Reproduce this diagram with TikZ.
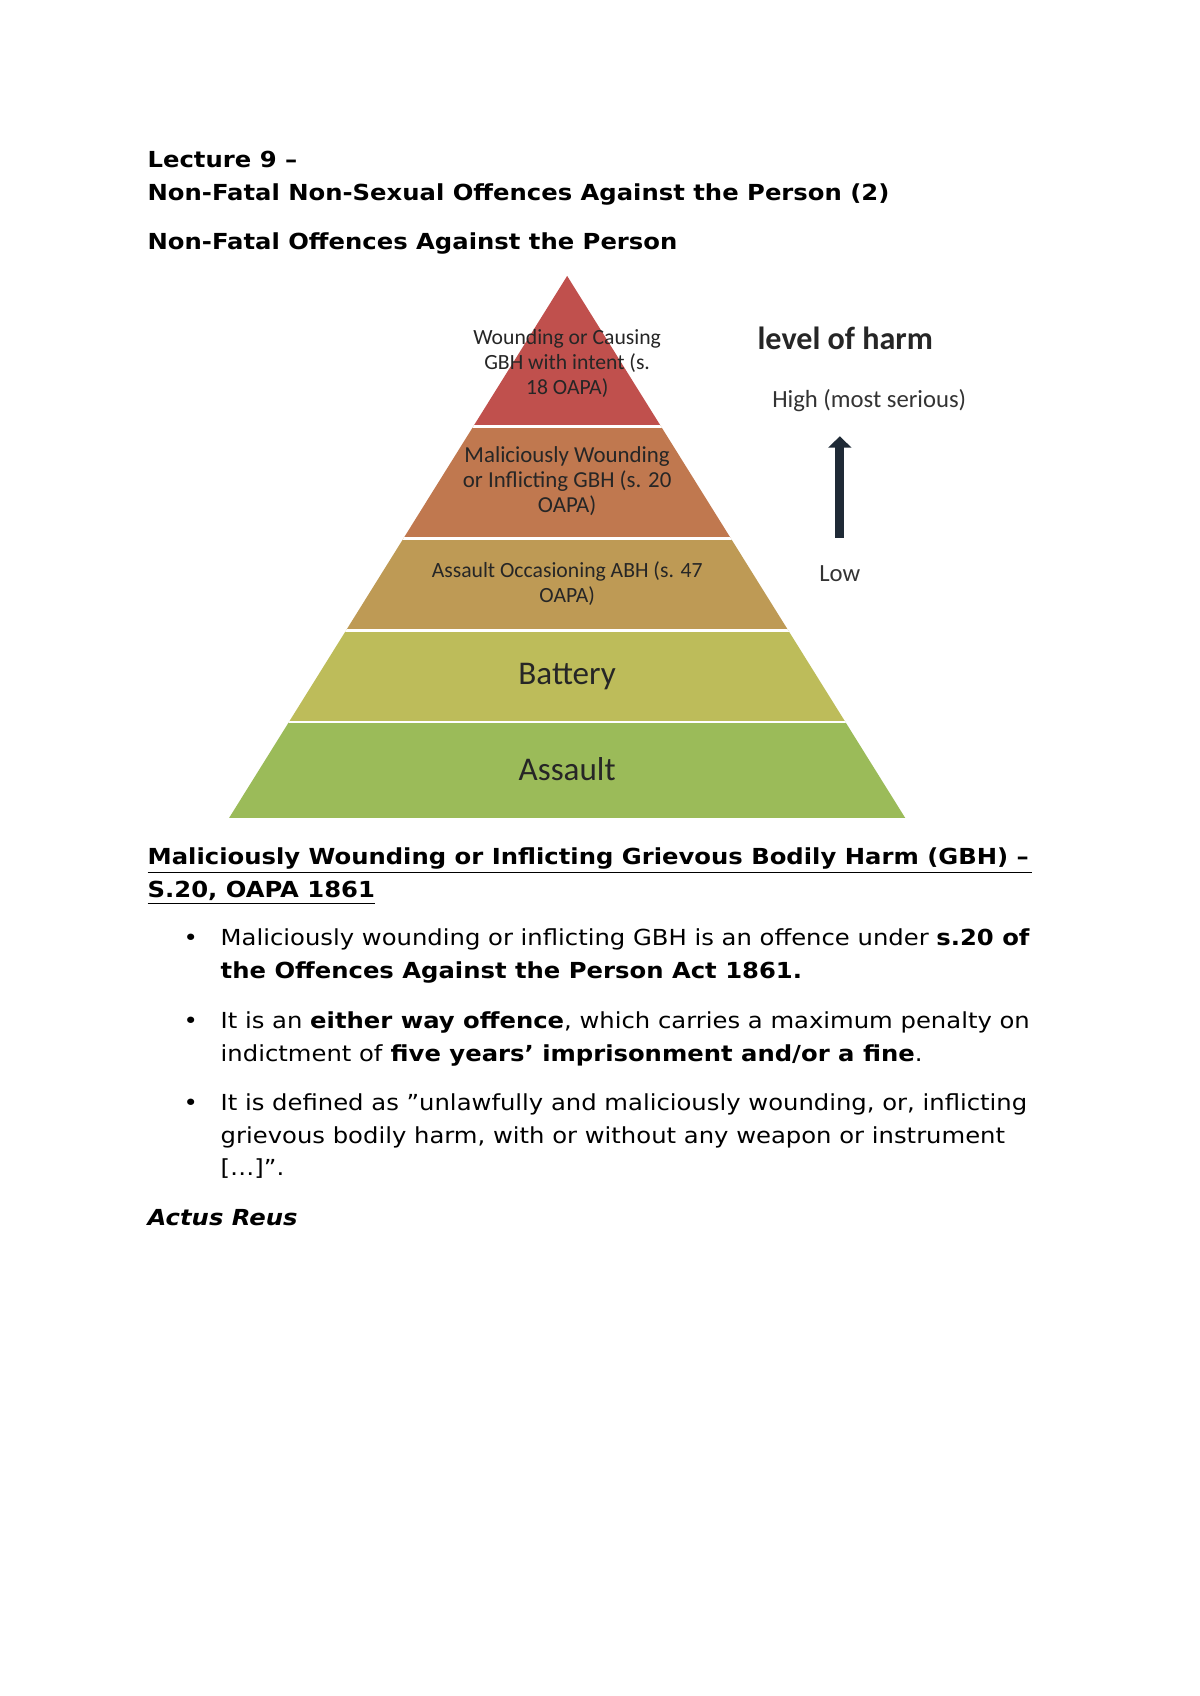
\documentclass[tikz,border=0pt]{standalone}
\usepackage{fontspec}
\setmainfont[FakeStretch=1.1]{DejaVu Sans}
\newfontfamily\calfont{Carlito}
\usetikzlibrary{arrows.meta}
\definecolor{lvred}{HTML}{C0504D}
\definecolor{lvorange}{HTML}{C0784F}
\definecolor{lvtan}{HTML}{BE9A55}
\definecolor{lvolive}{HTML}{BDBC5A}
\definecolor{lvgreen}{HTML}{9BBB59}
\definecolor{arrowdark}{HTML}{1F2A36}
\tikzset{
  doctext/.style={anchor=base west, inner sep=0pt, font=\fontsize{11}{13}\selectfont},
  headtext/.style={doctext, font=\fontsize{11}{13}\selectfont\bfseries},
  layertext/.style={align=center, font=\calfont\fontsize{10.8}{12.5}\selectfont, text=black!85},
  bigtext/.style={font=\calfont\fontsize{16.5}{20}\selectfont, text=black!85}
}
\begin{document}
\begin{tikzpicture}[x=0.191mm, y=-0.191mm]
    \useasboundingbox (0,0) rectangle (1100,1555);
    % Headings
    \node[headtext] (lec) at (135,154) {Lecture 9 –};
    \node[headtext] (sub) at (135,184) {Non-Fatal Non-Sexual Offences Against the Person (2)};
    \node[headtext] (pyrtitle) at (135,229) {Non-Fatal Offences Against the Person};

    % Pyramid bands
    \begin{scope}
        \clip (520,253) -- (830,750) -- (210,750) -- cycle;
        \fill[lvred] (200,250) rectangle (840,390);
        \fill[lvorange] (200,390) rectangle (840,493);
        \fill[lvtan] (200,493) rectangle (840,577);
        \fill[lvolive] (200,577) rectangle (840,661);
        \fill[lvgreen] (200,661) rectangle (840,750);
        \foreach \yy in {391,494,578,662}
            \draw[white, line width=0.5mm] (200,\yy) -- (840,\yy);
    \end{scope}
    \node[layertext] (s18) at (520,333) {Wounding or Causing\\GBH with intent (s.\\18 OAPA)};
    \node[layertext, font=\calfont\fontsize{11.4}{12.5}\selectfont] (s20) at (520,441) {Maliciously Wounding\\or Inflicting GBH (s. 20\\OAPA)};
    \node[layertext] (s47) at (520,535) {Assault Occasioning ABH (s. 47\\OAPA)};
    \node[bigtext] (battery) at (520,620) {Battery};
    \node[bigtext] (assault) at (520,705) {Assault};

    % Level of harm
    \node[font=\calfont\bfseries\fontsize{16}{19}\selectfont, text=black!85] (harm) at (775,310) {level of harm};
    \node[font=\calfont\fontsize{12.3}{14}\selectfont, text=black!80] (high) at (797,367) {High (most serious)};
    \node[font=\calfont\fontsize{12.3}{14}\selectfont, text=black!80] (low) at (770,526) {Low};
    \coordinate (arrbot) at (770,493);
    \coordinate (arrtop) at (770,400);
    \draw[arrowdark, line width=1.6mm, -{Triangle[length=2mm,width=4mm]}] (arrbot) -- (arrtop);

    % Section
    \node[headtext] (sec1) at (135,793) {\underline{Maliciously Wounding or Inflicting Grievous Bodily Harm (GBH) –\,}};
    \node[headtext] (sec2) at (135,823) {\underline{S.20, OAPA 1861}};

    % Bullets
    \foreach \by in {867,943,1018}
        \node[doctext] (dot\by) at (168,\by) {•};
    \node[doctext] (b1a) at (202,867) {Maliciously wounding or inflicting GBH is an offence under \textbf{s.20 of}};
    \node[doctext] (b1b) at (202,897) {\textbf{the Offences Against the Person Act 1861.}};
    \node[doctext] (b2a) at (202,943) {It is an \textbf{either way offence}, which carries a maximum penalty on};
    \node[doctext] (b2b) at (202,973) {indictment of \textbf{five years’ imprisonment and/or a fine}.};
    \node[doctext] (b3a) at (202,1018) {It is defined as \symbol{"22}unlawfully and maliciously wounding, or, inflicting};
    \node[doctext] (b3b) at (202,1048) {grievous bodily harm, with or without any weapon or instrument};
    \node[doctext] (b3c) at (202,1078) {[…]”.};

    \node[headtext, font=\fontsize{11}{13}\selectfont\bfseries\itshape] (actus) at (135,1124) {Actus Reus};
\end{tikzpicture}
\end{document}
